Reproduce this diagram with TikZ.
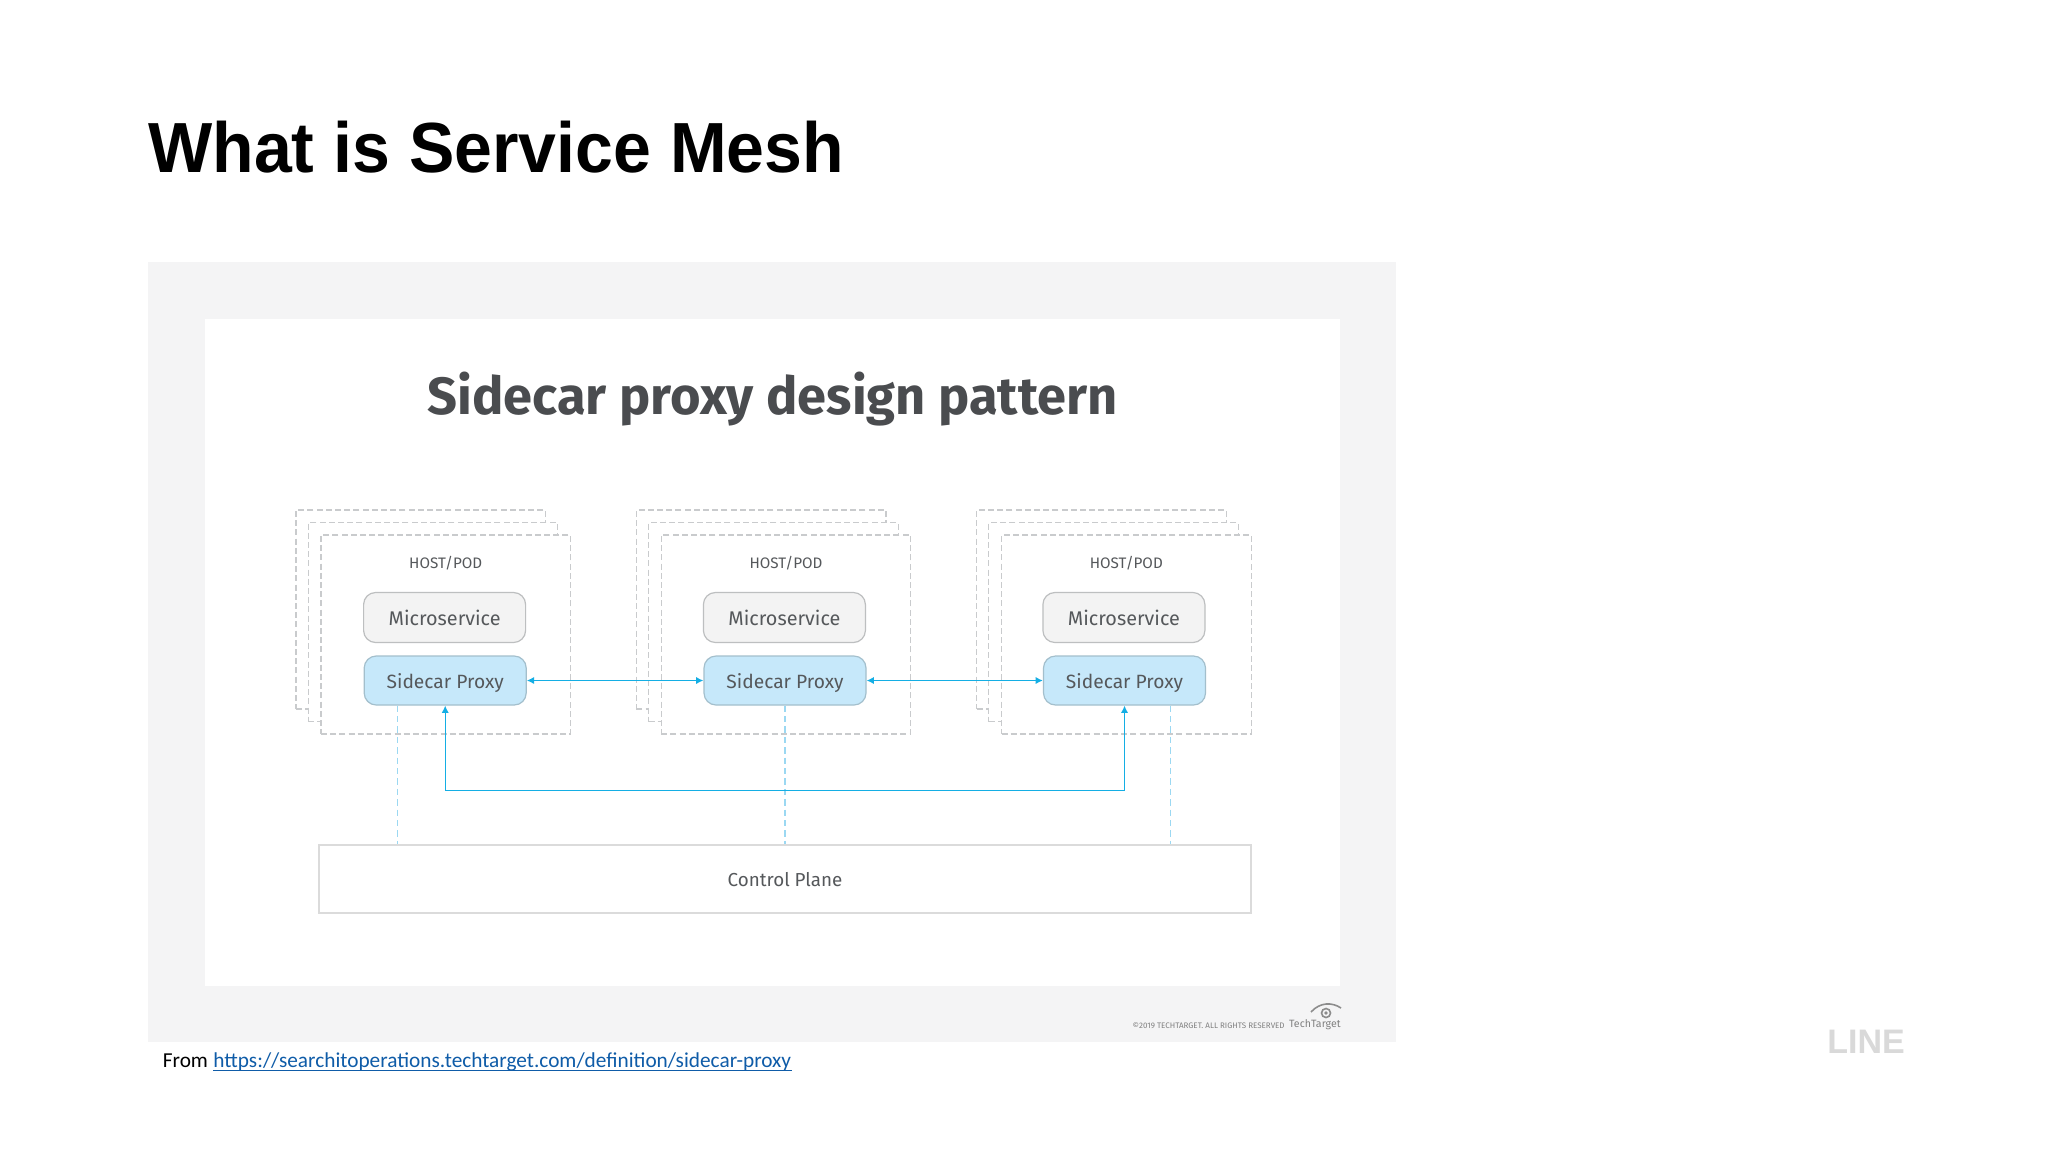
\documentclass[tikz,border=0pt]{standalone}
\usepackage{fontspec}
\setmainfont{Liberation Sans}
\newfontfamily\titlef[FakeStretch=0.958]{Liberation Sans}
\newfontfamily\firaf{Fira Sans}
\newfontfamily\carlitof{Carlito}
\usetikzlibrary{arrows.meta,calc}
\definecolor{panelgrey}{HTML}{F4F4F5}
\definecolor{dashgrey}{HTML}{C9CBCD}
\definecolor{inkgrey}{HTML}{55585B}
\definecolor{titlegrey}{HTML}{4A4C4F}
\definecolor{microfill}{HTML}{F3F3F3}
\definecolor{microline}{HTML}{BDBFC0}
\definecolor{sidefill}{HTML}{C6E8FA}
\definecolor{sideline}{HTML}{A3BFCC}
\definecolor{arrowblue}{HTML}{14AEE4}
\definecolor{dashblue}{HTML}{9BD8F2}
\definecolor{linkblue}{HTML}{0F5CA8}
\tikzset{
  hostbox/.style={draw=dashgrey,fill=white,line width=0.6pt,dash pattern=on 3pt off 1.6pt,inner sep=0pt,minimum width=124.8pt,minimum height=99.5pt},
  hostlabel/.style={font=\firaf\fontsize{7.6pt}{9pt}\selectfont,text=inkgrey,inner sep=0pt},
  microbox/.style={draw=microline,fill=microfill,line width=0.6pt,rounded corners=6pt,minimum width=81pt,minimum height=25pt,inner sep=0pt,font=\firaf\fontsize{9.9pt}{12pt}\selectfont,text=inkgrey},
  sidebox/.style={draw=sideline,fill=sidefill,line width=0.6pt,rounded corners=6pt,minimum width=81pt,minimum height=24.5pt,inner sep=0pt,text depth=0pt,font=\firaf\fontsize{9.6pt}{12pt}\selectfont,text=inkgrey},
  flow/.style={draw=arrowblue,line width=0.85pt,{Latex[length=3.6pt,width=3.6pt]}-{Latex[length=3.6pt,width=3.6pt]}},
  busflow/.style={draw=arrowblue,line width=0.65pt,{Latex[length=3.6pt,width=3.6pt]}-{Latex[length=3.6pt,width=3.6pt]}},
  ctrlflow/.style={draw=dashblue,line width=0.7pt,dash pattern=on 3.2pt off 2pt},
}
\begin{document}
\begin{tikzpicture}[x=0.5pt,y=-0.5pt]
\useasboundingbox (0,0) rectangle (2048,1152);
\fill[white] (0,0) rectangle (2048,1152);
\node[anchor=base west,inner sep=0pt,font=\titlef\bfseries\fontsize{35.5pt}{40pt}\selectfont] (title) at (148,172) {What is Service Mesh};
\fill[panelgrey] (148,262) rectangle (1396,1042);
\fill[white] (205,319) rectangle (1340,986);
\node[font=\firaf\bfseries\fontsize{26.2pt}{30pt}\selectfont,text=titlegrey,inner sep=0pt] (subtitle) at (772.5,399.5) {Sidecar proxy design pattern};
% host stacks
\foreach \i/\dx/\ex in {1/0/0,2/340.3/339.8,3/680.6/679.3}{
  \node[hostbox] (ba\i) at ({420.8+\dx},609.5) {};
  \node[hostbox] (mi\i) at ({433+\dx},622) {};
  \node[hostbox] (fr\i) at ({445.7+\dx},634.5) {};
  \node[hostlabel] (hl\i) at ({445.7+\dx},563.5) {HOST/POD};
  \node[microbox] (ms\i) at ({444.6+\ex},617.5) {Microservice};
  \node[sidebox] (sc\i) at ({445.2+\ex},680.5) {Sidecar Proxy};
}
% control plane
\node[draw=black!14,fill=white,line width=0.6pt,minimum width=466pt,minimum height=34pt,inner sep=0pt,text depth=0pt,font=\firaf\fontsize{9.4pt}{12pt}\selectfont,text=inkgrey] (cp) at (785,879) {Control Plane};
% connectors
\coordinate (d1) at (397.5,0);
\coordinate (d2) at (785,0);
\coordinate (d3) at (1170.5,0);
\coordinate (busline) at (0,790.3);
\draw[ctrlflow] (sc1.south -| d1) -- (cp.north -| d1);
\draw[ctrlflow] (sc2.south -| d2) -- (cp.north -| d2);
\draw[ctrlflow] (sc3.south -| d3) -- (cp.north -| d3);
\draw[flow] (sc1.east) -- (sc2.west);
\draw[flow] (sc2.east) -- (sc3.west);
\draw[busflow] (sc1.south) -- (sc1.south |- busline) -- (sc3.south |- busline) -- (sc3.south);
% credit
\node[anchor=east,inner sep=0pt,font=\firaf\fontsize{4pt}{5pt}\selectfont,text=black!50] (copy) at (1285,1025.5) {©2019 TECHTARGET. ALL RIGHTS RESERVED};
\node[anchor=east,inner sep=0pt,font=\firaf\fontsize{5.3pt}{6pt}\selectfont,text=black!50] (tt) at (1341,1025) {TechTarget};
\draw[black!45,line width=0.8pt] (1311,1012) .. controls (1320,1002) and (1332,1002) .. (1341,1008);
\draw[black!45,line width=0.8pt] (1326,1013) circle (4.5);
\fill[black!45] (1326,1013) circle (1.8);
% footer
\node[anchor=base west,inner sep=0pt,font=\carlitof\fontsize{10.65pt}{13pt}\selectfont] (from) at (162.5,1067) {From};
\node[anchor=base west,inner sep=0pt,font=\carlitof\fontsize{10.65pt}{13pt}\selectfont,text=linkblue] (link) at (213,1067) {https://searchitoperations.techtarget.com/definition/sidecar-proxy};
\draw[linkblue,line width=0.55pt] ($(link.base west)+(0,3.5)$) -- ($(link.base east)+(0,3.5)$);
% LINE
\node[inner sep=0pt,font=\bfseries\fontsize{17pt}{20pt}\selectfont,text=black!15] (lineword) at (1866,1042) {LINE};
\end{tikzpicture}
\end{document}
